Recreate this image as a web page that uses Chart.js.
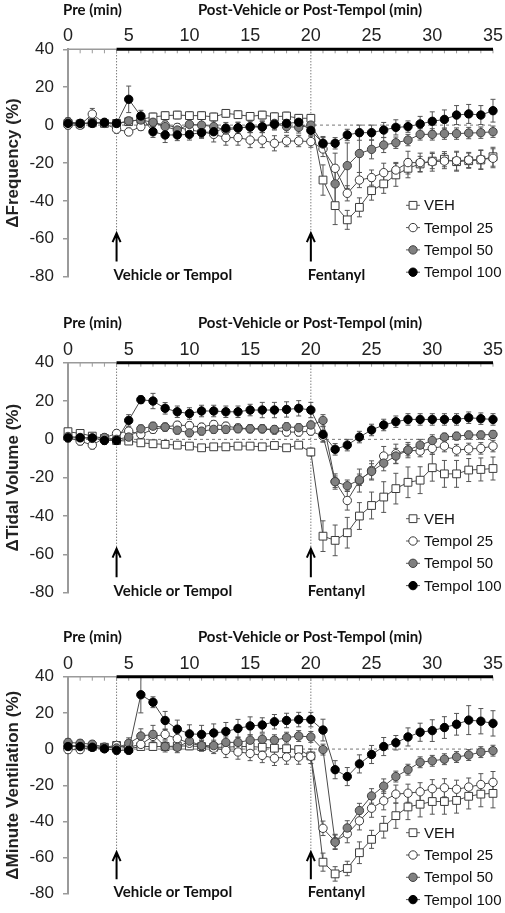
<!DOCTYPE html>
<html>
<head>
<meta charset="utf-8">
<script src="https://cdn.jsdelivr.net/npm/chart.js@4.4.1/dist/chart.umd.min.js"></script>
<style>
  body { margin: 0; background: #fff; }
  canvas { position: absolute; left: 0; }
</style>
</head>
<body>
<canvas id="graph1" width="505" height="313" style="top:0px"></canvas>
<canvas id="graph2" width="505" height="314" style="top:313px"></canvas>
<canvas id="graph3" width="505" height="286" style="top:627px"></canvas>
<script>
// Temps (min) de chaque mesure
const minutes = [0,1,2,3,4,5,6,7,8,9,10,11,12,13,14,15,16,17,18,19,20,21,22,23,24,25,26,27,28,29,30,31,32,33,34,35];
const nomsSeries = ['VEH', 'Tempol 25', 'Tempol 50', 'Tempol 100'];
const ticksY = [-80, -60, -40, -20, 0, 20, 40];

// ΔFrequency (%)
const freqVEH  = [0.9,0.5,1.2,0.9,0.9,1.8,3.0,4.3,5.0,5.3,5.0,5.0,4.3,6.2,5.5,4.6,5.3,4.4,4.8,3.6,3.6,-29,-42.5,-50,-43.4,-34.6,-31,-26.3,-22.8,-20.5,-19,-18,-19.3,-18.8,-18.4,-16.7];
const freqT25  = [0,0,5.8,0.9,-2.2,-3.6,-0.8,1.3,0,-1.2,-2.6,-3.5,-4.9,-6.6,-6.6,-7.9,-7.9,-9.6,-8.4,-8.4,-8.7,-12.6,-22.8,-36,-29,-27.7,-25.1,-23.7,-19.8,-19.8,-19.3,-19,-18.8,-18.4,-18.1,-17.5];
const freqT50  = [1.8,0.9,1.3,1.5,0.9,2.2,2.7,1.5,-0.8,-2.6,0.4,0,-0.8,-2.6,-1.7,-0.8,-0.8,0.9,-0.8,-1.2,0,-10,-31,-21.4,-15,-12.8,-10.5,-9.3,-7.9,-4.9,-4.9,-4.5,-4.5,-4.2,-4,-3.5];
const freqT100 = [0.9,0.9,0.9,1.3,0.9,13.6,4.8,-3.5,-5.2,-5.2,-4.9,-4.0,-3.5,-1.6,-1.4,-1.0,-1.0,0.4,0.9,1.5,-2.8,-9.6,-9.6,-5.2,-4,-4,-2.6,-1.2,-0.8,0.6,2,3,5.3,5.9,5.3,7.6];
const errFreqVEH  = [2,2,2,2,2,2,2,2,2,2,2,2,2,2,2,2,2,2,2,2,2,8,10,5,5,5,5,6,5,4,4,4,5,4,5,5];
const errFreqT25  = [2,2,3,2,2,2,2,2,2,2,3,3,4,4,4,4,4,4,3,3,3,4,8,4,4,4,5,4,6,5,5,4,5,4,5,5];
const errFreqT50  = [2,2,2,2,2,2,2,3,3,3,3,3,3,3,3,3,3,3,3,3,3,4,10,12,10,5,4,3,3,3,3,3,3,3,3,3];
const errFreqT100 = [2,2,2,2,2,7,3,3,4,3,3,3,3,3,3,3,3,3,3,3,3,3,3,3,4,4,4,4,3,4,5,5,5,5,5,6];

// ΔTidal Volume (%)
const volVEH  = [4,3.1,1.7,0.5,-0.6,-0.9,-1.8,-2.3,-2.6,-3,-3.5,-4.4,-3.9,-3.9,-3.5,-3.5,-3.9,-3.2,-4.4,-3,-6.6,-50.5,-52.7,-48.7,-40,-34.5,-30.1,-25.7,-22.4,-21.3,-14.8,-18,-18,-16,-15.7,-15.2];
const volT25  = [0.8,-0.9,-3,0.8,3.1,4.3,2.6,5.2,6.4,7.4,7.2,6.4,7.8,6.9,6,5.5,5.5,4.8,3.8,3.8,4.3,1.7,-22,-31.9,-21.5,-16.2,-8.7,-7.5,-5.6,-6.1,-4.7,-3.5,-5.6,-5,-4.7,-3.5];
const volT50  = [1.5,1,0.5,1,0,1.2,5.5,6.9,6.4,4.8,3.4,4.3,5.2,5.2,5.5,5.5,5.5,5.2,6.6,6.1,7.5,9.9,-22.1,-24.2,-21.1,-16.7,-12.4,-8.7,-5.6,-3,-0.6,1.2,1.7,2.3,2.3,2.6];
const volT100 = [0.8,0.8,0.8,-0.6,-0.6,9.9,20.7,20,16.2,14.4,13.5,14.8,14.8,14.4,14.4,15.3,15.3,15.3,15.6,16.2,15.3,2.6,-5.2,-3,1.2,4.9,7.5,9.2,10.4,10.4,10.4,10.4,10.4,11.3,10.8,10.4];
const errVolVEH  = [1,1,1,1,1,1,1,1,1,1,1,1,1,1,1,1,1,1,1,1,2,8,8,8,7,7,8,8,8,7,7,7,7,6,6,6];
const errVolT25  = [2,2,2,2,2,2,2,2,2,2,2,2,2,2,2,2,2,2,2,2,2,3,4,5,6,5,5,5,4,3,3,3,3,3,3,3];
const errVolT50  = [1,1,1,1,1,2,2,2,2,2,2,2,2,2,2,2,2,2,2,2,2,3,3,3,3,4,4,4,3,3,3,2,2,2,2,2];
const errVolT100 = [2,2,2,2,2,3,2,4,3,3,3,3,3,3,3,3,4,4,4,4,4,4,3,3,3,3,3,3,3,3,3,3,3,3,3,3];

// ΔMinute Ventilation (%)
const ventVEH  = [1.9,1.9,1.4,1,2,0.2,1.4,1.4,1.4,1.7,1.7,1.4,1,1,1.4,1.4,1,0.5,0.2,-0.3,-3.8,-62.5,-69,-66,-57.3,-49.9,-43.2,-36.8,-32,-30.5,-29,-29,-28.4,-26.1,-24.9,-24.5];
const ventT25  = [-0.3,-0.3,1,0.2,2,1,2.6,7,8.1,5.8,3.2,1.9,0.5,-0.7,-1.6,-2.4,-3.5,-5.1,-4.4,-4.4,-4,-43.8,-51.1,-46.8,-39.7,-32.7,-28.6,-24.9,-24.4,-23.6,-21.9,-21.4,-22.2,-21,-19.6,-18.4];
const ventT50  = [3.7,3.2,2.7,1.1,0.6,3.2,7.2,8.1,1.4,1,4.4,1.9,1.9,3.7,3.7,4.9,5.4,4.9,6.3,7.2,6.7,-0.3,-51.5,-43.6,-34,-25.9,-20.5,-15.2,-11.4,-7.3,-6.5,-5.6,-4.4,-3.3,-1.7,-0.9];
const ventT100 = [1.4,1.4,1,0.2,-0.7,-0.7,30,25.9,15.8,11,8.4,8.1,8.9,9.7,11.4,12.8,13.3,15.1,15.8,16.3,16.3,10.5,-11.4,-15.2,-8.2,-3,1.4,3.5,6.7,9.3,10.2,11.9,13.7,16,15.4,14.2];
const errVentVEH  = [2,2,2,2,2,2,2,2,2,2,2,2,2,2,2,2,2,2,2,2,2,5,4,4,6,5,6,7,7,7,7,7,7,7,7,8];
const errVentT25  = [2,2,2,2,2,2,3,3,3,3,3,3,3,4,4,4,4,4,4,4,4,4,4,5,5,5,5,5,5,5,5,5,5,5,6,6];
const errVentT50  = [2,2,2,2,2,3,4,5,3,3,3,3,3,3,3,3,3,3,3,3,3,3,4,4,4,4,4,3,3,3,3,3,3,3,3,3];
const errVentT100 = [2,2,2,2,2,2,10,3,5,5,5,5,5,5,5,5,4,4,4,4,4,6,5,5,5,5,5,4,5,5,6,6,6,8,7,7];

// Style de chaque série (carré blanc, rond blanc, rond gris, rond noir)
const stylesSeries = [
    { pointStyle: 'rect',   radius: 5.5, fond: '#ffffff', bord: '#3a3a3a', ordre: 4 },
    { pointStyle: 'circle', radius: 4.2, fond: '#ffffff', bord: '#3a3a3a', ordre: 3 },
    { pointStyle: 'circle', radius: 4.2, fond: '#808080', bord: '#404040', ordre: 2 },
    { pointStyle: 'circle', radius: 4.2, fond: '#000000', bord: '#000000', ordre: 1 }
];

const policeAxe = 'Liberation Sans, Arial, sans-serif';
const policeTexte = 'Lato, Open Sans, sans-serif';

//****************************************************************
// Plugin pour les barres d'erreur, flèches, axe du haut et légende
const decor = {
    id: 'decor',
    beforeDatasetsDraw(chart) {
        const ctx = chart.ctx;
        const xs = chart.scales.x;
        const ys = chart.scales.y;
        const a = chart.chartArea;
        ctx.save();

        // ligne pointillée du zéro
        ctx.strokeStyle = '#777';
        ctx.lineWidth = 1;
        ctx.setLineDash([3, 3]);
        ctx.beginPath();
        ctx.moveTo(xs.getPixelForValue(0), ys.getPixelForValue(0));
        ctx.lineTo(xs.getPixelForValue(35), ys.getPixelForValue(0));
        ctx.stroke();

        // lignes verticales à t=4 et t=20
        ctx.strokeStyle = '#444';
        ctx.setLineDash([1, 2]);
        [4, 20].forEach(function (t) {
            const x = xs.getPixelForValue(t);
            ctx.beginPath();
            ctx.moveTo(x, a.top);
            ctx.lineTo(x, ys.getPixelForValue(-57));
            ctx.stroke();
        });
        ctx.setLineDash([]);

        // barres d'erreur
        ctx.strokeStyle = '#555';
        ctx.lineWidth = 1;
        chart.data.datasets.forEach(function (ds) {
            ds.data.forEach(function (p, i) {
                const e = ds.erreurs[i];
                const x = xs.getPixelForValue(p.x);
                const y1 = ys.getPixelForValue(p.y + e);
                const y2 = ys.getPixelForValue(p.y - e);
                ctx.beginPath();
                ctx.moveTo(x, y1); ctx.lineTo(x, y2);
                ctx.moveTo(x - 2.5, y1); ctx.lineTo(x + 2.5, y1);
                ctx.moveTo(x - 2.5, y2); ctx.lineTo(x + 2.5, y2);
                ctx.stroke();
            });
        });
        ctx.restore();
    },
    afterDraw(chart) {
        const ctx = chart.ctx;
        const xs = chart.scales.x;
        const ys = chart.scales.y;
        const a = chart.chartArea;
        ctx.save();

        // axe du haut : gris avant t=4, noir épais ensuite
        ctx.strokeStyle = '#9a9a9a';
        ctx.lineWidth = 1;
        for (let i = 0; i < minutes.length; i++) {
            const x = xs.getPixelForValue(minutes[i]);
            ctx.beginPath();
            ctx.moveTo(x, a.top);
            ctx.lineTo(x, a.top + 4);
            ctx.stroke();
        }
        ctx.lineWidth = 1.5;
        ctx.beginPath();
        ctx.moveTo(xs.getPixelForValue(0), a.top);
        ctx.lineTo(xs.getPixelForValue(4), a.top);
        ctx.stroke();
        ctx.strokeStyle = '#000';
        ctx.lineWidth = 3;
        ctx.beginPath();
        ctx.moveTo(xs.getPixelForValue(4), a.top);
        ctx.lineTo(xs.getPixelForValue(35), a.top);
        ctx.stroke();

        // titres au-dessus
        ctx.fillStyle = '#111';
        ctx.font = 'bold 15px ' + policeTexte;
        ctx.textBaseline = 'middle';
        ctx.textAlign = 'left';
        ctx.fillText('Pre (min)', 63, 10);
        ctx.textAlign = 'center';
        ctx.fillText('Post-Vehicle or Post-Tempol (min)', 310, 10);

        // flèches et textes du bas
        ctx.strokeStyle = '#000';
        ctx.lineWidth = 2;
        [4, 20].forEach(function (t) {
            const x = xs.getPixelForValue(t);
            const yh = ys.getPixelForValue(-57);
            ctx.beginPath();
            ctx.moveTo(x, ys.getPixelForValue(-72));
            ctx.lineTo(x, yh);
            ctx.moveTo(x - 4, yh + 9);
            ctx.lineTo(x, yh);
            ctx.lineTo(x + 4, yh + 9);
            ctx.stroke();
        });
        ctx.textAlign = 'left';
        ctx.fillText('Vehicle or Tempol', xs.getPixelForValue(4) - 3, a.bottom - 2);
        ctx.fillText('Fentanyl', xs.getPixelForValue(20) - 3, a.bottom - 2);

        // légende
        ctx.font = '15px ' + policeAxe;
        chart.data.datasets.forEach(function (ds, i) {
            const st = stylesSeries[i];
            const x = a.right - 80;
            const y = a.top + 156 + i * 22.3;
            ctx.strokeStyle = '#555';
            ctx.lineWidth = 1;
            ctx.beginPath();
            ctx.moveTo(x - 7, y);
            ctx.lineTo(x + 7, y);
            ctx.stroke();
            ctx.fillStyle = st.fond;
            ctx.strokeStyle = st.bord;
            Chart.helpers.drawPoint(ctx, { pointStyle: st.pointStyle, radius: st.radius, borderWidth: 1, rotation: 0 }, x, y);
            ctx.fillStyle = '#111';
            ctx.fillText(ds.label, x + 11, y + 1);
        });
        ctx.restore();
    }
};

//****************************************************************
// Création d'un graphique
function creerGraphique(id, titreY, valeurs, erreurs, haut, bas) {
    const canvas = document.getElementById(id);
    const datasets = [];
    for (let s = 0; s < valeurs.length; s++) {
        const st = stylesSeries[s];
        datasets.push({
            label: nomsSeries[s],
            data: minutes.map(function (t, i) { return { x: t, y: valeurs[s][i] }; }),
            erreurs: erreurs[s],
            borderColor: '#4a4a4a',
            borderWidth: 1,
            pointStyle: st.pointStyle,
            pointRadius: st.radius,
            pointBackgroundColor: st.fond,
            pointBorderColor: st.bord,
            pointBorderWidth: 1,
            order: st.ordre,
            clip: false
        });
    }

    new Chart(canvas, {
        type: 'line',
        data: { datasets: datasets },
        options: {
            responsive: false,
            animation: false,
            layout: { padding: { left: 0, top: 0, right: 11.7, bottom: canvas.height - bas } },
            plugins: { legend: { display: false }, tooltip: { enabled: false } },
            scales: {
                x: {
                    type: 'linear',
                    position: 'top',
                    min: 0,
                    max: 35,
                    ticks: { stepSize: 5, color: '#222', padding: 2, font: { family: policeAxe, size: 18 } },
                    grid: { display: false, drawTicks: false, tickLength: 0 },
                    border: { display: false },
                    afterFit: function (scale) { scale.height = haut; }
                },
                y: {
                    min: -80,
                    max: 40,
                    afterBuildTicks: function (scale) { scale.ticks = ticksY.map(function (v) { return { value: v }; }); },
                    ticks: { color: '#222', padding: 9, font: { family: policeAxe, size: 17 } },
                    grid: { drawOnChartArea: false, drawTicks: true, tickLength: 5, color: '#9a9a9a', lineWidth: 1.5 },
                    border: { color: '#9a9a9a', width: 2 },
                    title: { display: true, text: titreY, color: '#222', padding: { top: 3, bottom: 0 }, font: { family: policeAxe, size: 17, weight: 'bold' } },
                    afterFit: function (scale) { scale.width = 68; }
                }
            }
        },
        plugins: [decor]
    });
}

creerGraphique('graph1', '\u0394Frequency (%)',
    [freqVEH, freqT25, freqT50, freqT100],
    [errFreqVEH, errFreqT25, errFreqT50, errFreqT100], 49.3, 276.7);
creerGraphique('graph2', '\u0394Tidal Volume (%)',
    [volVEH, volT25, volT50, volT100],
    [errVolVEH, errVolT25, errVolT50, errVolT100], 49.7, 279.7);
creerGraphique('graph3', '\u0394Minute Ventilation (%)',
    [ventVEH, ventT25, ventT50, ventT100],
    [errVentVEH, errVentT25, errVentT50, errVentT100], 49.7, 278);
</script>
</body>
</html>
